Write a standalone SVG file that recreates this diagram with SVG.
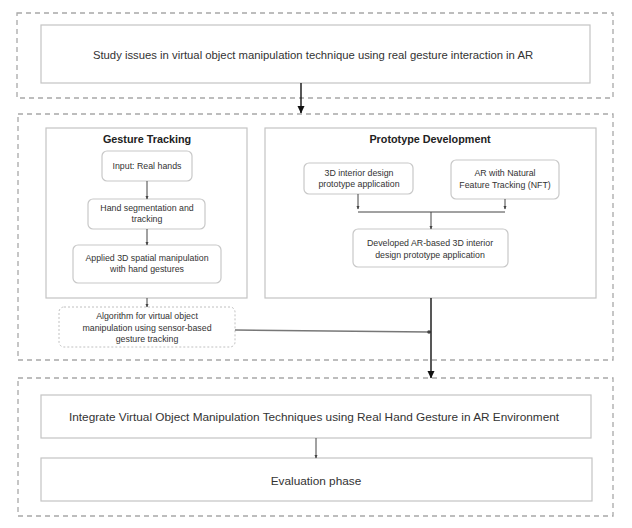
<svg xmlns="http://www.w3.org/2000/svg" width="632" height="528" viewBox="0 0 632 528">
<defs>
<marker id="big" markerWidth="8" markerHeight="8" refX="7" refY="4" orient="auto" markerUnits="userSpaceOnUse">
<path d="M0,0.5 L7.5,4 L0,7.5 Z" fill="#111"/>
</marker>
<marker id="sm" markerWidth="4" markerHeight="4" refX="3.5" refY="2" orient="auto" markerUnits="userSpaceOnUse">
<path d="M0,0.3 L4,2 L0,3.7 Z" fill="#444"/>
</marker>
<marker id="dot" markerWidth="4" markerHeight="4" refX="2" refY="2" markerUnits="userSpaceOnUse">
<circle cx="2" cy="2" r="1.8" fill="#444"/>
</marker>
</defs>
<style>
.phase{fill:none;stroke:#a8a8a8;stroke-width:1.3;stroke-dasharray:5,4}
.box{fill:#fff;stroke:#c4c4c4;stroke-width:1.2}
.rbox{fill:#fff;stroke:#c8c8c8;stroke-width:1.2}
.dbox{fill:#fff;stroke:#c0c0c0;stroke-width:1;stroke-dasharray:2,2}
text{font-family:"Liberation Sans",Arial,sans-serif;fill:#333;text-anchor:middle}
.t1{font-size:11.3px}
.t3{font-size:11.8px}
.t2{font-size:8.8px}
.tt{font-size:10.8px;font-weight:bold;fill:#222}
.c{fill:none;stroke:#444;stroke-width:1}
.cg{fill:none;stroke:#777;stroke-width:1.4}
.cb{fill:none;stroke:#111;stroke-width:1.4}
</style>
<rect width="632" height="528" fill="#fff"/>

<g id="phase1">
<rect class="phase" x="17" y="13" width="596" height="85"/>
</g>
<g id="phase2">
<rect class="phase" x="18" y="114" width="595" height="246"/>
</g>
<g id="phase3">
<rect class="phase" x="18" y="378" width="595" height="138"/>
</g>

<g id="study">
<rect class="box" x="41" y="25" width="549" height="58"/>
<text class="t1" x="313" y="59">Study issues in virtual object manipulation technique using real gesture interaction in AR</text>
</g>

<g id="gesture-tracking">
<rect class="box" x="46" y="128" width="201" height="170"/>
<text class="tt" x="147" y="143">Gesture Tracking</text>
</g>
<g id="input">
<rect class="rbox" x="102" y="151" width="90" height="30" rx="5"/>
<text class="t2" x="147" y="169">Input: Real hands</text>
</g>
<g id="segmentation">
<rect class="rbox" x="88" y="199" width="117" height="30" rx="5"/>
<text class="t2" x="147" y="211">Hand segmentation and</text>
<text class="t2" x="147" y="222">tracking</text>
</g>
<g id="applied">
<rect class="rbox" x="73" y="245" width="148" height="38" rx="5"/>
<text class="t2" x="147" y="261">Applied 3D spatial manipulation</text>
<text class="t2" x="147" y="272">with hand gestures</text>
</g>
<g id="algorithm">
<rect class="dbox" x="59" y="307" width="176" height="40" rx="5"/>
<text class="t2" x="147" y="319">Algorithm for virtual object</text>
<text class="t2" x="147" y="331">manipulation using sensor-based</text>
<text class="t2" x="147" y="342">gesture tracking</text>
</g>

<g id="prototype-development">
<rect class="box" x="265" y="128" width="331" height="170"/>
<text class="tt" x="430" y="143">Prototype Development</text>
</g>
<g id="interior">
<rect class="rbox" x="304" y="163" width="109" height="31" rx="5"/>
<text class="t2" x="359" y="176">3D interior design</text>
<text class="t2" x="359" y="187">prototype application</text>
</g>
<g id="nft">
<rect class="rbox" x="451" y="160" width="108" height="39" rx="5"/>
<text class="t2" x="505" y="176">AR with Natural</text>
<text class="t2" x="505" y="188">Feature Tracking (NFT)</text>
</g>
<g id="developed">
<rect class="rbox" x="353" y="229" width="155" height="38" rx="5"/>
<text class="t2" x="430" y="246">Developed AR-based 3D interior</text>
<text class="t2" x="430" y="258">design prototype application</text>
</g>

<g id="integrate">
<rect class="box" x="41" y="395" width="550" height="43"/>
<text class="t3" x="314" y="421">Integrate Virtual Object Manipulation Techniques using Real Hand Gesture in AR Environment</text>
</g>
<g id="evaluation">
<rect class="box" x="41" y="458" width="551" height="43"/>
<text class="t3" x="316" y="485">Evaluation phase</text>
</g>

<g id="connectors">
<line class="cb" x1="301" y1="83" x2="301" y2="113" marker-end="url(#big)"/>
<line class="c" x1="147" y1="181" x2="147" y2="199" marker-end="url(#sm)"/>
<line class="c" x1="147" y1="229" x2="147" y2="245" marker-end="url(#sm)"/>
<line class="c" x1="147" y1="298" x2="147" y2="307" marker-end="url(#sm)"/>
<polyline class="c" points="358,194 358,209" marker-end="url(#sm)"/>
<polyline class="c" points="505,199 505,209" marker-end="url(#sm)"/>
<line class="c" x1="358" y1="212" x2="505" y2="212" stroke-width="1.3"/>
<line class="c" x1="431" y1="212" x2="431" y2="229" marker-end="url(#sm)"/>
<line class="cg" x1="235" y1="330" x2="429" y2="332" marker-end="url(#dot)"/>
<line class="cb" x1="431" y1="298" x2="431" y2="378" marker-end="url(#big)"/>
<line class="c" x1="316" y1="438" x2="316" y2="458" marker-end="url(#sm)"/>
</g>
</svg>
